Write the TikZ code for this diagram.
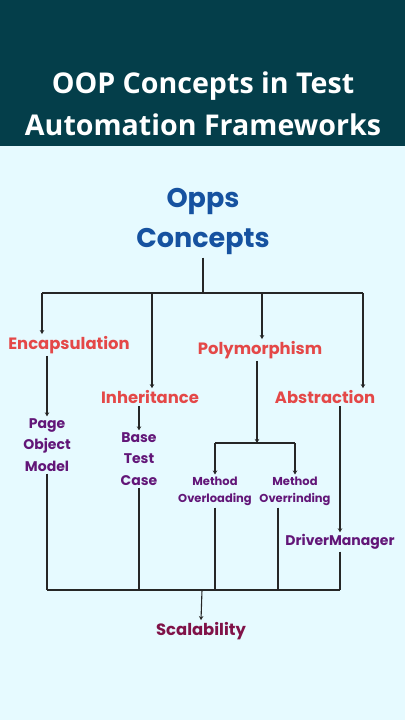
\documentclass[tikz,border=0pt]{standalone}
\usepackage{fontspec}
\setmainfont{Poppins}
\newfontfamily\titlefont{Open Sans}
\usetikzlibrary{arrows.meta}
\definecolor{hdr}{RGB}{4,62,74}
\definecolor{bgc}{RGB}{230,250,255}
\definecolor{oblue}{RGB}{22,82,160}
\definecolor{cred}{RGB}{228,72,72}
\definecolor{ipurple}{RGB}{98,22,120}
\definecolor{smaroon}{RGB}{128,18,72}

\begin{document}
\begin{tikzpicture}[
  x=1pt,y=-1pt,
  title/.style={text=white,font=\titlefont\bfseries\fontsize{28.6}{42}\selectfont,align=center},
  root/.style={text=oblue,font=\bfseries\fontsize{27}{40}\selectfont,align=center},
  concept/.style={text=cred,font=\bfseries\fontsize{16.4}{20}\selectfont,inner sep=2pt},
  impl/.style={text=ipurple,font=\bfseries\fontsize{14}{21.5}\selectfont,align=center,inner sep=2pt},
  method/.style={text=ipurple,font=\bfseries\fontsize{11.5}{17}\selectfont,align=center,inner sep=2pt},
  goal/.style={text=smaroon,font=\bfseries\fontsize{16.4}{20}\selectfont,inner sep=2pt},
  line/.style={draw=black!85,line width=1.1pt},
  arrow/.style={line,-{Stealth[length=4pt,width=4.5pt]}}
]
  % background and header band
  \useasboundingbox (0,0) rectangle (405,720);
  \fill[bgc] (0,0) rectangle (405,720);
  \fill[hdr] (0,0) rectangle (405,146);
  \node[title] (head) at (203,104) {OOP Concepts in Test\\Automation Frameworks};

  % root and the four concepts
  \node[root] (root) at (203,221) {Opps\\Concepts};
  \node[concept] (encap) at (69,345) {Encapsulation};
  \node[concept] (inherit) at (150,397) {Inheritance};
  \node[concept] (poly) at (260,350) {Polymorphism};
  \node[concept] (abst) at (325,397) {Abstraction};

  % what each concept gives in a framework
  \node[impl] (pom) at (47,445) {Page\\Object\\Model};
  \node[impl] (btc) at (139,459) {Base\\Test\\Case};
  \node[method] (mol) at (215,491) {Method\\Overloading};
  \node[method] (mor) at (295,491) {Method\\Overrinding};
  \node[impl] (dm) at (340,542) {DriverManager};
  \node[goal] (scal) at (201,631) {Scalability};

  % junctions
  \coordinate (hub) at (203,293);
  \coordinate (b1) at (42,293);
  \coordinate (b2) at (152,293);
  \coordinate (b3) at (262,293);
  \coordinate (b4) at (363,293);
  \coordinate (pj) at (257,443);
  \coordinate (sj) at (202,590);

  \draw[line] (root.south) -- (hub);
  \draw[line] (b1) -- (b4);
  \draw[arrow] (b1) -- (b1 |- encap.north);
  \draw[arrow] (b2) -- (b2 |- inherit.north);
  \draw[arrow] (b3) -- (b3 |- poly.north);
  \draw[arrow] (b4) -- (b4 |- abst.north);

  \draw[arrow] (encap.south -| pom) -- (pom.north);
  \draw[arrow] (inherit.south -| btc) -- (btc.north);
  \draw[arrow] (poly.south -| pj) -- (pj);
  \draw[line] (mol |- pj) -- (mor |- pj);
  \draw[arrow] (mol |- pj) -- (mol.north);
  \draw[arrow] (mor |- pj) -- (mor.north);
  \draw[arrow] (abst.south -| dm) -- (dm.north);

  % everything feeds scalability
  \draw[line] (pom.south) -- (pom |- sj);
  \draw[line] (btc.south) -- (btc |- sj);
  \draw[line] (mol.south) -- (mol |- sj);
  \draw[line] ([xshift=-17pt]mor.south) -- ([xshift=-17pt]mor.south |- sj);
  \draw[line] (dm.south) -- (dm |- sj);
  \draw[line] (pom |- sj) -- (dm |- sj);
  \draw[arrow] (sj) -- (scal.north);
\end{tikzpicture}
\end{document}
